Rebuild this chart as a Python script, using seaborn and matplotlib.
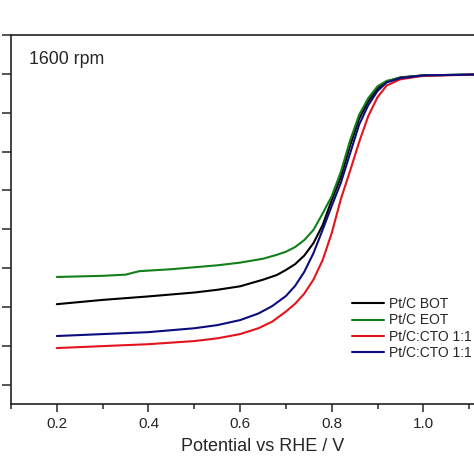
import matplotlib
matplotlib.use('Agg')
import matplotlib.pyplot as plt
import seaborn as sns
from matplotlib.ticker import MultipleLocator

# Data (potential in V vs RHE, current density)
bot_x = [0.20, 0.30, 0.40, 0.50, 0.55, 0.60, 0.65, 0.68, 0.70, 0.72, 0.74, 0.76, 0.78, 0.80, 0.82, 0.84, 0.86, 0.88, 0.90, 0.92, 0.95, 1.00, 1.20]
bot_y = [-5.93, -5.82, -5.73, -5.63, -5.56, -5.47, -5.30, -5.18, -5.05, -4.90, -4.68, -4.36, -3.90, -3.25, -2.65, -1.85, -1.15, -0.70, -0.38, -0.20, -0.09, -0.04, 0.0]

eot_x = [0.20, 0.30, 0.35, 0.38, 0.45, 0.50, 0.55, 0.60, 0.65, 0.68, 0.70, 0.72, 0.74, 0.76, 0.78, 0.80, 0.82, 0.84, 0.86, 0.88, 0.90, 0.92, 0.95, 1.00, 1.20]
eot_y = [-5.23, -5.20, -5.17, -5.08, -5.03, -4.98, -4.93, -4.86, -4.76, -4.66, -4.58, -4.46, -4.28, -4.02, -3.60, -3.15, -2.52, -1.72, -1.05, -0.62, -0.32, -0.18, -0.10, -0.04, 0.0]

cto_red_x = [0.20, 0.30, 0.40, 0.50, 0.55, 0.60, 0.64, 0.67, 0.70, 0.72, 0.74, 0.76, 0.78, 0.80, 0.82, 0.84, 0.86, 0.88, 0.90, 0.92, 0.95, 1.00, 1.20]
cto_red_y = [-7.06, -7.01, -6.96, -6.88, -6.81, -6.70, -6.55, -6.38, -6.12, -5.92, -5.66, -5.30, -4.80, -4.10, -3.22, -2.50, -1.75, -1.08, -0.60, -0.30, -0.14, -0.05, 0.0]

cto_blue_x = [0.20, 0.30, 0.40, 0.50, 0.55, 0.60, 0.64, 0.67, 0.70, 0.72, 0.74, 0.76, 0.78, 0.80, 0.82, 0.84, 0.86, 0.88, 0.90, 0.92, 0.95, 1.00, 1.20]
cto_blue_y = [-6.75, -6.70, -6.65, -6.55, -6.47, -6.34, -6.17, -5.98, -5.72, -5.46, -5.10, -4.62, -4.02, -3.40, -2.80, -2.05, -1.30, -0.80, -0.44, -0.22, -0.11, -0.04, 0.0]

labels = ['Pt/C BOT', 'Pt/C EOT', 'Pt/C:CTO 1:1', 'Pt/C:CTO 1:1']
colors = ['#000000', '#12801a', '#e3141b', '#0c0c80']

sns.set_style('ticks')
plt.rcParams['font.family'] = ['Liberation Sans', 'DejaVu Sans']

fig = plt.figure(figsize=(4.74, 4.74), dpi=100)
# axes runs past the right edge, as in the cropped reference
ax = fig.add_axes([11 / 474, 70 / 474, 504 / 474, 369 / 474])

series = [(bot_x, bot_y), (eot_x, eot_y), (cto_red_x, cto_red_y), (cto_blue_x, cto_blue_y)]
for (xs, ys), lab, col in zip(series, labels, colors):
    sns.lineplot(x=xs, y=ys, ax=ax, color=col, label=lab, lw=1.5, sort=False, estimator=None)

ax.set_xlim(0.1, 1.2)
ax.set_ylim(-8.5, 1.0)
ax.xaxis.set_minor_locator(MultipleLocator(0.1))
ax.yaxis.set_major_locator(MultipleLocator(1.0))
ax.set_xticks([0.2, 0.4, 0.6, 0.8, 1.0])
ax.tick_params(axis='x', which='major', direction='out', length=6, width=1.1, labelsize=11, pad=3.5)
ax.tick_params(axis='x', which='minor', direction='out', length=3.5, width=1.1)
ax.tick_params(axis='y', which='major', direction='out', length=6.5, width=1.1, labelleft=False)
for s in ax.spines.values():
    s.set_linewidth(1.2)
    s.set_color('#222222')

ax.set_xlabel('Potential vs RHE / V', fontsize=13, labelpad=5)
ax.set_ylabel('')
ax.text(29 / 474, 1 - 59 / 474, '1600 rpm', transform=fig.transFigure, fontsize=12.8, va='center', ha='left')

ax.legend(loc='upper left', bbox_to_anchor=(352 / 474, 1 - 297 / 474), bbox_transform=fig.transFigure,
          frameon=False, fontsize=10, handlelength=2.3, handletextpad=0.36, labelspacing=0.17,
          borderpad=0, borderaxespad=0)

fig.savefig('out.png', dpi=100)
